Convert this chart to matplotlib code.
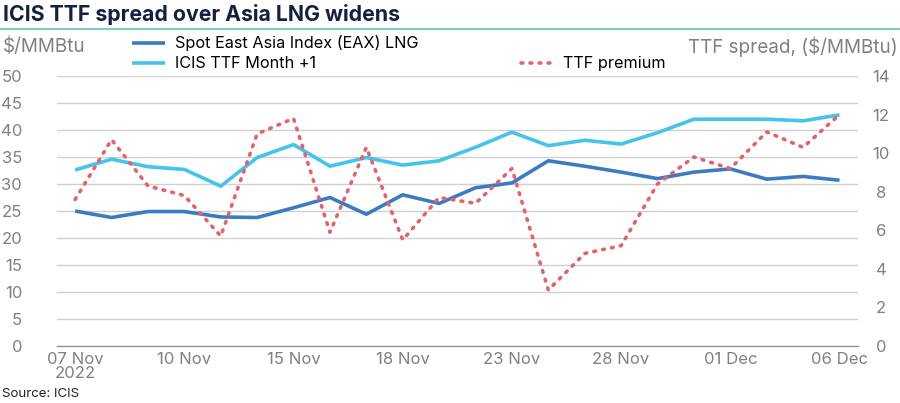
import matplotlib.pyplot as plt
from matplotlib.ticker import MultipleLocator

plt.rcParams['font.family'] = ['Inter', 'DejaVu Sans']

# trading days 07 Nov 2022 - 06 Dec 2022
dates = ["07 Nov", "08 Nov", "09 Nov", "10 Nov", "11 Nov", "14 Nov", "15 Nov",
         "16 Nov", "17 Nov", "18 Nov", "21 Nov", "22 Nov", "23 Nov", "24 Nov",
         "25 Nov", "28 Nov", "29 Nov", "30 Nov", "01 Dec", "02 Dec", "05 Dec", "06 Dec"]
eax = [25.0, 23.8, 24.9, 24.9, 23.9, 23.8, 25.6, 27.5, 24.4, 28.0, 26.4,
       29.3, 30.2, 34.3, 33.3, 32.2, 31.0, 32.2, 32.8, 30.9, 31.4, 30.7]
ttf = [32.6, 34.6, 33.2, 32.7, 29.6, 34.9, 37.3, 33.3, 34.9, 33.5, 34.3,
       36.8, 39.6, 37.1, 38.1, 37.4, 39.5, 42.0, 42.0, 42.0, 41.7, 42.8]
premium = [7.6, 10.7, 8.3, 7.8, 5.7, 11.0, 11.8, 5.9, 10.3, 5.5, 7.7,
           7.4, 9.2, 2.9, 4.8, 5.2, 8.4, 9.8, 9.2, 11.1, 10.3, 12.0]
tick_idx = [0, 3, 6, 9, 12, 15, 18, 21]
tick_labels = ["07 Nov\n2022", "10 Nov", "15 Nov", "18 Nov", "23 Nov", "28 Nov", "01 Dec", "06 Dec"]

c_eax = "#3b7cc0"
c_ttf = "#45c3ea"
c_prem = "#e0646e"
grey = "#808080"

fig = plt.figure(figsize=(9, 4.03), dpi=100)
ax = fig.add_axes([0.0633, 0.1414, 0.8897, 0.67])
ax2 = ax.twinx()

x = list(range(len(dates)))
l1, = ax.plot(x, eax, color=c_eax, lw=2.6, solid_capstyle='butt')
l2, = ax.plot(x, ttf, color=c_ttf, lw=2.6, solid_capstyle='butt')
l3, = ax2.plot(x, premium, color=c_prem, lw=2.6, linestyle=(0, (0.5, 2.0)),
               dash_capstyle='round')

ax.set_xlim(-0.5, 21.5)
ax.set_ylim(0, 50)
ax2.set_ylim(0, 14)
ax.yaxis.set_major_locator(MultipleLocator(5))
ax2.yaxis.set_major_locator(MultipleLocator(2))
ax.grid(axis='y', color='#d0d0d0', lw=1)
ax.set_axisbelow(True)

for a in (ax, ax2):
    for s in ('top', 'left', 'right'):
        a.spines[s].set_visible(False)
    a.spines['bottom'].set_color('#8c8c8c')
    a.tick_params(length=0, colors=grey, labelsize=12)

ax.set_xticks(tick_idx)
ax.set_xticklabels(tick_labels, linespacing=0.95)
ax.tick_params(axis='x', pad=4)
ax.tick_params(axis='y', pad=25)
ax2.tick_params(axis='y', pad=17)
for t in ax2.get_yticklabels():
    t.set_ha('center')

fig.text(0.003, 0.965, "ICIS TTF spread over Asia LNG widens", fontsize=15.3,
         fontweight='bold', color='#14203f', va='center')
fig.add_artist(plt.Line2D([0, 1], [0.927, 0.927], color='#7fcfb6', lw=1.5))
fig.text(0.003, 0.885, "$/MMBtu", fontsize=13.6, color=grey, va='center')
fig.text(0.997, 0.885, "TTF spread, ($/MMBtu)", fontsize=13.6, color=grey,
         va='center', ha='right')
fig.text(0.002, 0.022, "Source: ICIS", fontsize=9.6, color='#222222', va='center')

leg1 = fig.legend(handles=[l1, l2], labels=["Spot East Asia Index (EAX) LNG", "ICIS TTF Month +1"],
                  loc='upper left', bbox_to_anchor=(0.147, 0.912), frameon=False,
                  fontsize=11.7, handlelength=2.0, handletextpad=0.6, labelspacing=0.3,
                  borderaxespad=0, borderpad=0)
leg2 = fig.legend(handles=[l3], labels=["TTF premium"],
                  loc='upper left', bbox_to_anchor=(0.579, 0.86), frameon=False,
                  fontsize=11.7, handlelength=2.0, handletextpad=0.6,
                  borderaxespad=0, borderpad=0)

fig.savefig("out.png", dpi=100)
